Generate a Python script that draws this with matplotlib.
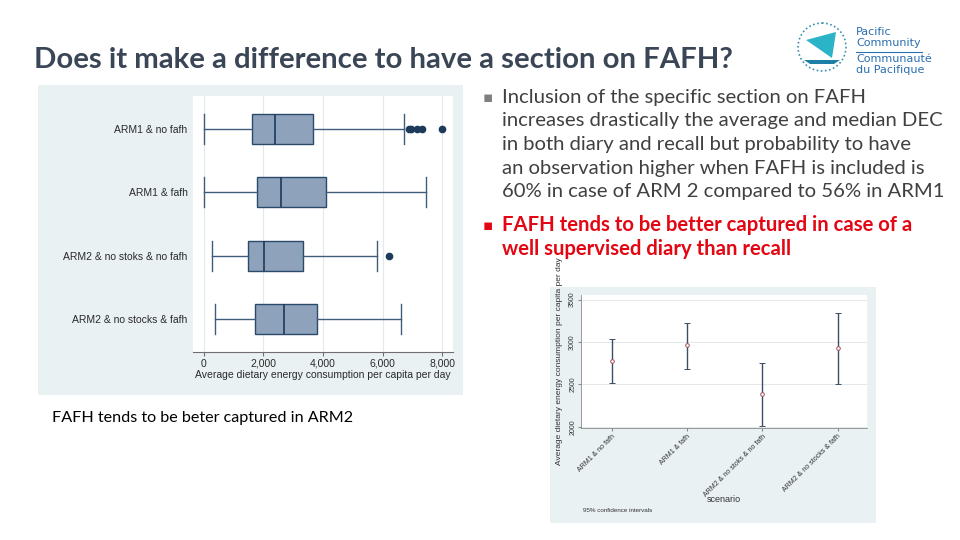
import matplotlib
matplotlib.use("Agg")
import matplotlib.pyplot as plt
from matplotlib.patches import Rectangle, Circle, Polygon
import numpy as np

# --- data ---
box_labels = ["ARM1 & no fafh", "ARM1 & fafh", "ARM2 & no stoks & no fafh", "ARM2 & no stocks & fafh"]
box_low = [20, 0, 270, 380]
box_q1 = [1610, 1780, 1480, 1735]
box_med = [2405, 2595, 2010, 2685]
box_q3 = [3660, 4105, 3345, 3800]
box_high = [6710, 7470, 5815, 6630]
box_fliers = [[6880, 6960, 7140, 7330, 7980], [], [6200], []]
box_ticks = [0, 2000, 4000, 6000, 8000]
box_ticklabels = ["0", "2,000", "4,000", "6,000", "8,000"]

ci_labels = ["ARM1 & no fafh", "ARM1 & fafh", "ARM2 & no stoks & no fafh", "ARM2 & no stocks & fafh"]
ci_mean = [2778, 2960, 2381, 2929]
ci_low = [2512, 2686, 2008, 2500]
ci_high = [3039, 3226, 2750, 3345]
ci_ticks = [2000, 2500, 3000, 3500]

title = "Does it make a difference to have a section on FAFH?"
bullet1 = ["Inclusion of the specific section on FAFH",
           "increases drastically the average and median DEC",
           "in both diary and recall but probability to have",
           "an observation higher when FAFH is included is",
           "60% in case of ARM 2 compared to 56% in ARM1"]
bullet2 = ["FAFH tends to be better captured in case of a",
           "well supervised diary than recall"]
caption = "FAFH tends to be beter captured in ARM2"

W, H = 960, 540
fig = plt.figure(figsize=(9.6, 5.4), dpi=100)
fig.patch.set_facecolor("white")


def px_axes(l, t, r, b):
    return fig.add_axes([l / W, 1 - b / H, (r - l) / W, (b - t) / H])


def ft(x, y, s, **kw):
    fig.text(x / W, 1 - y / H, s, **kw)


# background layer for panels and logo
bg = fig.add_axes([0, 0, 1, 1])
bg.set_xlim(0, W)
bg.set_ylim(H, 0)
bg.axis("off")
panel = "#EAF1F3"
bg.add_patch(Rectangle((38, 85), 425, 310, color=panel, lw=0))
bg.add_patch(Rectangle((550, 287), 326, 236, color=panel, lw=0))

# logo
bg.add_patch(Circle((822, 47), 24, fill=False, ec="#3a8fb0", lw=1.2, ls=(0, (1, 1.5))))
bg.add_patch(Polygon([[806, 40], [836, 32], [832, 58]], closed=True, color="#2bb3c7", lw=0))
bg.add_patch(Polygon([[804, 60], [840, 60], [834, 64], [810, 64]], closed=True, color="#1d7fa6", lw=0))
bg.plot([856, 922], [51.5, 51.5], color="#2a6fb0", lw=0.8)
logo_font = dict(family="DejaVu Sans", fontsize=8, color="#2a6fb0", va="center")
ft(856, 32, "Pacific", **logo_font)
ft(856, 43, "Community", **logo_font)
ft(856, 59, "Communauté", **logo_font)
ft(856, 70, "du Pacifique", **logo_font)

slide_font = "Lato"
ft(34, 60, title, family=slide_font, fontsize=21.2, fontweight="bold", color="#3A4556", va="center")

y = 97
ft(483, y, "\u25aa", family="DejaVu Sans", fontsize=11, color="#7F7F7F", va="center")
for line in bullet1:
    ft(502, y, line, family=slide_font, fontsize=14.6, color="#404040", va="center")
    y += 23.7
y = 225
ft(483, y, "\u25aa", family="DejaVu Sans", fontsize=11, color="#E30613", va="center")
for line in bullet2:
    ft(502, y, line, family=slide_font, fontsize=14.6, fontweight="bold", color="#E30613", va="center")
    y += 24

ft(52, 418, caption, family=slide_font, fontsize=11.6, color="#000000", va="center")

# --- horizontal box plot ---
ax = px_axes(193, 96, 453, 352)
stats = []
for i in range(len(box_labels)):
    stats.append(dict(whislo=box_low[i], q1=box_q1[i], med=box_med[i], q3=box_q3[i],
                      whishi=box_high[i], fliers=box_fliers[i]))
pos = np.arange(len(box_labels))
ax.bxp(stats, positions=pos, vert=False, widths=0.47, patch_artist=True,
       boxprops=dict(facecolor="#8EA3BB", edgecolor="#2B4A6A", lw=1.0),
       medianprops=dict(color="#1E3A5A", lw=1.2),
       whiskerprops=dict(color="#3E5C7C", lw=1.0),
       capprops=dict(color="#3E5C7C", lw=1.0),
       capwidths=0.47,
       flierprops=dict(marker="o", markerfacecolor="#1E3A5A", markeredgecolor="#1E3A5A", markersize=4.5))
ax.set_ylim(3.52, -0.52)
ax.set_xlim(-360, 8360)
ax.set_xticks(box_ticks)
ax.set_xticklabels(box_ticklabels)
ax.set_yticks(pos)
ax.set_yticklabels(box_labels)
ax.grid(axis="x", color="#E3E8EC", lw=0.8)
ax.set_axisbelow(True)
for s in ["top", "right", "left"]:
    ax.spines[s].set_visible(False)
ax.spines["bottom"].set_color("#6F6F6F")
ax.spines["bottom"].set_linewidth(0.8)
ax.tick_params(axis="y", length=0, labelsize=7.5, labelcolor="#2A2A2A", pad=4)
ax.tick_params(axis="x", length=3, color="#6F6F6F", labelsize=7.5, labelcolor="#2A2A2A", pad=2)
for t in ax.get_xticklabels() + ax.get_yticklabels():
    t.set_family("Liberation Sans")
ax.set_xlabel("Average dietary energy consumption per capita per day", family="Liberation Sans",
              fontsize=7.5, color="#2A2A2A", labelpad=1)

# --- confidence interval plot ---
ax2 = px_axes(581, 295, 867, 428)
xs = np.arange(1, len(ci_labels) + 1)
mean = np.array(ci_mean)
err = [mean - np.array(ci_low), np.array(ci_high) - mean]
ax2.errorbar(xs, mean, yerr=err, fmt="o", color="#2B4A6A", ecolor="#3A4F66", elinewidth=1.0,
             capsize=2.5, capthick=1.0, markersize=2.6, markerfacecolor="white",
             markeredgecolor="#A05060", markeredgewidth=0.7)
ax2.set_xlim(0.59, 4.39)
ax2.set_ylim(1985, 3555)
ax2.set_yticks(ci_ticks)
ax2.set_yticklabels([str(v) for v in ci_ticks], rotation=90, va="center")
ax2.set_xticks(xs)
ax2.set_xticklabels(ci_labels, rotation=45, ha="right", va="top", rotation_mode="anchor")
ax2.grid(axis="y", color="#E3E8EC", lw=0.7)
ax2.set_axisbelow(True)
for s in ["top", "right"]:
    ax2.spines[s].set_visible(False)
for s in ["left", "bottom"]:
    ax2.spines[s].set_color("#8A8A8A")
    ax2.spines[s].set_linewidth(0.6)
ax2.tick_params(axis="both", length=2, color="#8A8A8A", labelsize=5, labelcolor="#333333", pad=1.5)
for t in ax2.get_xticklabels() + ax2.get_yticklabels():
    t.set_family("Liberation Sans")
ax2.set_ylabel("Average dietary energy consumption per capita per day", family="Liberation Sans",
               fontsize=6, color="#333333")
ax2.yaxis.set_label_coords((563 - 581) / (867 - 581), 0.5)
ft(724, 500, "scenario", family="Liberation Sans", fontsize=6.5, color="#333333", ha="center", va="center")
ft(583, 511, "95% confidence intervals", family="Liberation Sans", fontsize=4.5, color="#333333", va="center")

fig.savefig("out.png", dpi=100, facecolor="white")
